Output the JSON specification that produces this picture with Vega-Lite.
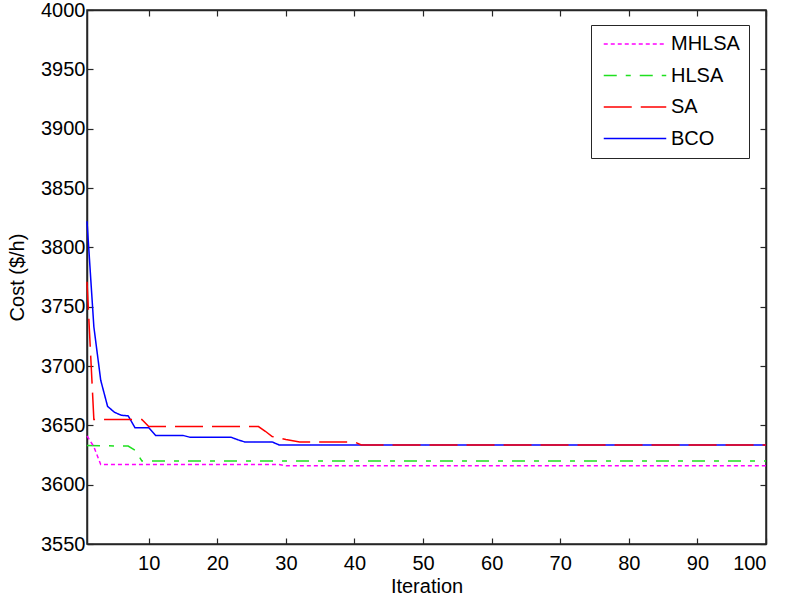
{
  "$schema": "https://vega.github.io/schema/vega-lite/v6.json",
  "width": 679,
  "height": 534,
  "autosize": "none",
  "padding": {"left": 87, "top": 10, "right": 19, "bottom": 53},
  "background": "white",
  "data": {
    "values": [
      {"algorithm": "BCO", "iteration": 1, "cost": 3822},
      {"algorithm": "BCO", "iteration": 2, "cost": 3733},
      {"algorithm": "BCO", "iteration": 3, "cost": 3688},
      {"algorithm": "BCO", "iteration": 4, "cost": 3666},
      {"algorithm": "BCO", "iteration": 5, "cost": 3661},
      {"algorithm": "BCO", "iteration": 6, "cost": 3658.5},
      {"algorithm": "BCO", "iteration": 7, "cost": 3658},
      {"algorithm": "BCO", "iteration": 8, "cost": 3648},
      {"algorithm": "BCO", "iteration": 10, "cost": 3648},
      {"algorithm": "BCO", "iteration": 11, "cost": 3641.5},
      {"algorithm": "BCO", "iteration": 15, "cost": 3641.5},
      {"algorithm": "BCO", "iteration": 16, "cost": 3640},
      {"algorithm": "BCO", "iteration": 22, "cost": 3640},
      {"algorithm": "BCO", "iteration": 23, "cost": 3637.8},
      {"algorithm": "BCO", "iteration": 24, "cost": 3636},
      {"algorithm": "BCO", "iteration": 28, "cost": 3636},
      {"algorithm": "BCO", "iteration": 29, "cost": 3633.5},
      {"algorithm": "BCO", "iteration": 100, "cost": 3633.5},
      {"algorithm": "SA", "iteration": 1, "cost": 3771},
      {"algorithm": "SA", "iteration": 2, "cost": 3655},
      {"algorithm": "SA", "iteration": 9, "cost": 3655},
      {"algorithm": "SA", "iteration": 10, "cost": 3649},
      {"algorithm": "SA", "iteration": 26, "cost": 3649},
      {"algorithm": "SA", "iteration": 27, "cost": 3645},
      {"algorithm": "SA", "iteration": 28, "cost": 3640.5},
      {"algorithm": "SA", "iteration": 29, "cost": 3639.5},
      {"algorithm": "SA", "iteration": 30, "cost": 3638},
      {"algorithm": "SA", "iteration": 31, "cost": 3637},
      {"algorithm": "SA", "iteration": 32, "cost": 3636},
      {"algorithm": "SA", "iteration": 40, "cost": 3636},
      {"algorithm": "SA", "iteration": 41, "cost": 3633.5},
      {"algorithm": "SA", "iteration": 100, "cost": 3633.5},
      {"algorithm": "HLSA", "iteration": 1, "cost": 3633},
      {"algorithm": "HLSA", "iteration": 7, "cost": 3632.5},
      {"algorithm": "HLSA", "iteration": 8, "cost": 3629},
      {"algorithm": "HLSA", "iteration": 9, "cost": 3620},
      {"algorithm": "HLSA", "iteration": 100, "cost": 3620},
      {"algorithm": "MHLSA", "iteration": 1, "cost": 3641},
      {"algorithm": "MHLSA", "iteration": 2, "cost": 3632},
      {"algorithm": "MHLSA", "iteration": 3, "cost": 3617},
      {"algorithm": "MHLSA", "iteration": 29, "cost": 3617},
      {"algorithm": "MHLSA", "iteration": 30, "cost": 3616},
      {"algorithm": "MHLSA", "iteration": 100, "cost": 3616}
    ]
  },
  "layer": [
    {
      "mark": {"type": "line", "strokeWidth": 1.5},
      "encoding": {
        "x": {
          "field": "iteration",
          "type": "quantitative",
          "scale": {"domain": [1, 100], "nice": false, "zero": false},
          "axis": {"orient": "bottom", "title": "Iteration", "format": "d", "values": [10, 20, 30, 40, 50, 60, 70, 80, 90, 100]}
        },
        "y": {
          "field": "cost",
          "type": "quantitative",
          "scale": {"domain": [3550, 4000], "nice": false, "zero": false},
          "axis": {"orient": "left", "title": "Cost ($/h)", "format": "d", "values": [3550, 3600, 3650, 3700, 3750, 3800, 3850, 3900, 3950, 4000]}
        },
        "color": {
          "field": "algorithm",
          "type": "nominal",
          "scale": {"domain": ["MHLSA", "HLSA", "SA", "BCO"], "range": ["#ff00ff", "#1fe01f", "#ff0000", "#0000ff"]},
          "legend": {"title": null, "orient": "none", "legendX": 504, "legendY": 15}
        },
        "strokeDash": {
          "field": "algorithm",
          "type": "nominal",
          "scale": {"domain": ["MHLSA", "HLSA", "SA", "BCO"], "range": [[4, 3], [13, 9, 5, 9], [28, 9], [1, 0]]},
          "legend": {"title": null, "orient": "none", "legendX": 504, "legendY": 15}
        }
      }
    },
    {
      "mark": {"type": "point", "opacity": 0},
      "encoding": {
        "x": {
          "field": "iteration",
          "type": "quantitative",
          "scale": {"domain": [1, 100], "nice": false, "zero": false},
          "axis": {"orient": "top", "title": null, "labels": false, "values": [10, 20, 30, 40, 50, 60, 70, 80, 90, 100]}
        },
        "y": {
          "field": "cost",
          "type": "quantitative",
          "scale": {"domain": [3550, 4000], "nice": false, "zero": false},
          "axis": {"orient": "right", "title": null, "labels": false, "values": [3550, 3600, 3650, 3700, 3750, 3800, 3850, 3900, 3950, 4000]}
        }
      }
    }
  ],
  "resolve": {"axis": {"x": "independent", "y": "independent"}},
  "config": {
    "font": "Liberation Sans",
    "view": {"stroke": "#262626", "strokeWidth": 1.5},
    "axis": {
      "grid": false,
      "domainColor": "#262626",
      "domainWidth": 1.5,
      "tickColor": "#262626",
      "tickSize": -6,
      "tickWidth": 1.2,
      "labelFontSize": 20,
      "labelColor": "#000000",
      "labelPadding": 8,
      "titleFontSize": 20,
      "titleFontWeight": "normal",
      "titleColor": "#000000"
    },
    "axisLeft": {"titlePadding": 13},
    "axisBottom": {"labelPadding": 15, "titlePadding": 3},
    "legend": {
      "strokeColor": "#262626",
      "fillColor": "white",
      "padding": 9,
      "symbolType": "M-5,0H5",
      "symbolSize": 156.25,
      "symbolOffset": 25,
      "symbolStrokeWidth": 1.5,
      "labelFontSize": 20,
      "labelColor": "#000000",
      "labelOffset": 26,
      "rowPadding": 11.5
    }
  }
}
